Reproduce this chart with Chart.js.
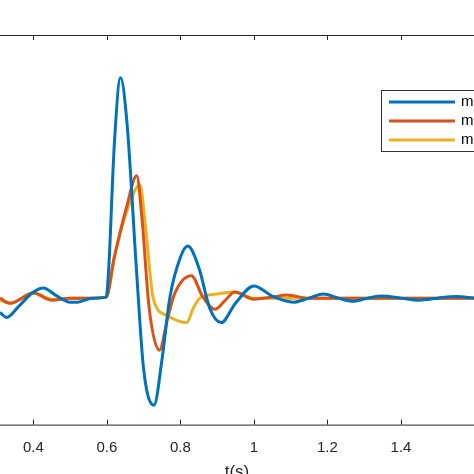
<!DOCTYPE html>
<html>
<head>
<meta charset="utf-8">
<script src="https://cdn.jsdelivr.net/npm/chart.js@4"></script>
<style>html,body{margin:0;padding:0;background:#fff;overflow:hidden}</style>
</head>
<body>
<canvas id="c" width="474" height="474"></canvas>
<script>
const seriesLabels = ['method 1', 'method 2', 'method 3'];
const xTicks = [0.4, 0.6, 0.8, 1, 1.2, 1.4];

const blueT = [0.309,0.327,0.36,0.40,0.427,0.46,0.50,0.52,0.56,0.598,0.605,0.62,0.637,0.655,0.68,0.70,0.728,0.75,0.771,0.80,0.82,0.85,0.88,0.911,0.95,1.0,1.05,1.107,1.15,1.189,1.23,1.27,1.31,1.35,1.4,1.45,1.5,1.55,1.6];
const blueV = [-0.14,-0.19,-0.08,0.06,0.10,0.03,-0.04,-0.04,0,0.01,0.3,1.5,2.16,1.7,0.3,-0.7,-1.05,-0.6,0,0.4,0.51,0.3,-0.1,-0.24,-0.05,0.12,0.02,-0.04,0,0.04,0,-0.03,0,0.02,0,-0.02,0,0.015,0];

const redT = [0.309,0.336,0.40,0.45,0.50,0.55,0.598,0.62,0.654,0.681,0.695,0.715,0.743,0.765,0.785,0.83,0.86,0.894,0.92,0.948,1.0,1.05,1.089,1.15,1.3,1.45,1.6];
const redV = [0,-0.05,0.05,-0.02,0,0,0.01,0.4,0.9,1.2,0.8,-0.1,-0.51,-0.2,0.05,0.22,0.02,-0.11,-0.03,0.06,-0.01,0.01,0.03,0,0,0,0];

const yellowT = [0.309,0.336,0.40,0.45,0.50,0.55,0.598,0.62,0.654,0.69,0.705,0.726,0.763,0.817,0.835,0.853,0.90,0.944,1.0,1.05,1.2,1.4,1.6];
const yellowV = [-0.02,-0.05,0.05,-0.01,0,0,0.01,0.4,0.85,1.11,0.7,0.0,-0.17,-0.24,-0.1,0.0,0.04,0.06,0,0,0,0,0];

const toPts = (t, v) => t.map((x, i) => ({x: x, y: v[i]}));
const colors = ['#0072BD', '#D95319', '#EDB120'];

const frame = {
  id: 'frame',
  afterDraw(chart) {
    const ctx = chart.ctx, a = chart.chartArea, xs = chart.scales.x;
    ctx.save();
    ctx.strokeStyle = '#262626';
    ctx.lineWidth = 1;
    ctx.beginPath();
    ctx.moveTo(a.left, a.top + 0.5); ctx.lineTo(a.right, a.top + 0.5);
    ctx.moveTo(a.left, a.bottom + 0.5); ctx.lineTo(a.right, a.bottom + 0.5);
    xTicks.forEach(t => {
      const px = Math.round(xs.getPixelForValue(t)) + 0.5;
      ctx.moveTo(px, a.bottom); ctx.lineTo(px, a.bottom - 5);
      ctx.moveTo(px, a.top); ctx.lineTo(px, a.top + 5);
    });
    ctx.stroke();
    // legend box
    const lx = 381, ly = 90, lw = 120, lh = 61;
    ctx.fillStyle = '#fff';
    ctx.fillRect(lx, ly, lw, lh);
    ctx.strokeStyle = '#333';
    ctx.strokeRect(lx + 0.5, ly + 0.5, lw, lh);
    ctx.font = '15px "Liberation Sans", Arial, sans-serif';
    ctx.textBaseline = 'middle';
    chart.data.datasets.forEach((d, i) => {
      const y = ly + 12 + i * 19;
      ctx.strokeStyle = d.borderColor;
      ctx.lineWidth = 3;
      ctx.beginPath(); ctx.moveTo(389, y); ctx.lineTo(455, y); ctx.stroke();
      ctx.fillStyle = '#000';
      ctx.fillText(d.label, 461, y);
    });
    ctx.restore();
  }
};

new Chart(document.getElementById('c'), {
  type: 'line',
  data: {
    datasets: [
      {label: seriesLabels[0], data: toPts(blueT, blueV), borderColor: colors[0]},
      {label: seriesLabels[1], data: toPts(redT, redV), borderColor: colors[1]},
      {label: seriesLabels[2], data: toPts(yellowT, yellowV), borderColor: colors[2]}
    ].map(d => Object.assign(d, {borderWidth: 3, pointRadius: 0, fill: false, cubicInterpolationMode: 'monotone'}))
  },
  options: {
    responsive: false,
    animation: false,
    devicePixelRatio: 1,
    layout: {padding: {top: 35, left: 0, right: 0, bottom: -9}},
    plugins: {legend: {display: false}, tooltip: {enabled: false}},
    scales: {
      x: {
        type: 'linear', min: 0.309, max: 1.599,
        grid: {display: false}, border: {display: false},
        afterBuildTicks: s => { s.ticks = xTicks.map(v => ({value: v})); },
        ticks: {color: '#262626', font: {size: 15, family: '"Liberation Sans", Arial'}, padding: 6, maxRotation: 0,
          callback: v => String(v)},
        title: {display: true, text: 't(s)', color: '#262626', font: {size: 17, family: '"Liberation Sans", Arial'}, padding: 0}
      },
      y: {display: false, min: -1.24, max: 2.58}
    }
  },
  plugins: [frame]
});
</script>
</body>
</html>
